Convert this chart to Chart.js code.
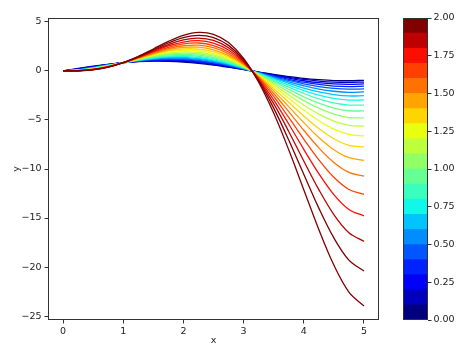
<!DOCTYPE html>
<html>
<head>
<meta charset="utf-8">
<script src="https://cdn.jsdelivr.net/npm/chart.js@4.4.1/dist/chart.umd.min.js"></script>
<style>
  html, body { margin: 0; padding: 0; background: #fff; }
  #wrap { position: relative; width: 474px; height: 355px; }
  canvas { position: absolute; left: 0; top: 0; }
</style>
</head>
<body>
<div id="wrap">
  <canvas id="main" width="474" height="355"></canvas>
  <canvas id="cbar" width="474" height="355"></canvas>
</div>
<script>
// x positions of the samples
const xs = [0, 0.25, 0.5, 0.75, 1, 1.25, 1.5, 1.75, 2, 2.25, 2.5, 2.75, 3, 3.25, 3.5, 3.75, 4, 4.25, 4.5, 4.75, 5];

// parameter of each curve (0 .. 2 in steps of 0.1)
const params = [0, 0.1, 0.2, 0.3, 0.4, 0.5, 0.6, 0.7, 0.8, 0.9, 1.0, 1.1, 1.2, 1.3, 1.4, 1.5, 1.6, 1.7, 1.8, 1.9, 2.0];

// y values, one row per curve
const curves = [
  [0, 0.25, 0.48, 0.68, 0.84, 0.95, 1.00, 0.98, 0.91, 0.78, 0.60, 0.38, 0.14, -0.11, -0.35, -0.57, -0.76, -0.89, -0.98, -1.00, -0.96],
  [0, 0.22, 0.45, 0.66, 0.84, 0.97, 1.04, 1.04, 0.97, 0.84, 0.66, 0.42, 0.16, -0.12, -0.40, -0.65, -0.87, -1.03, -1.14, -1.17, -1.13],
  [0, 0.19, 0.42, 0.64, 0.84, 0.99, 1.08, 1.10, 1.04, 0.92, 0.72, 0.47, 0.18, -0.14, -0.45, -0.74, -1.00, -1.20, -1.32, -1.36, -1.32],
  [0, 0.16, 0.39, 0.63, 0.84, 1.01, 1.13, 1.16, 1.12, 0.99, 0.79, 0.52, 0.20, -0.15, -0.51, -0.85, -1.15, -1.38, -1.54, -1.59, -1.55],
  [0, 0.14, 0.36, 0.61, 0.84, 1.04, 1.17, 1.23, 1.20, 1.08, 0.86, 0.57, 0.22, -0.17, -0.58, -0.97, -1.32, -1.60, -1.78, -1.86, -1.83],
  [0, 0.12, 0.34, 0.59, 0.84, 1.06, 1.22, 1.30, 1.29, 1.17, 0.95, 0.63, 0.24, -0.20, -0.66, -1.11, -1.51, -1.85, -2.07, -2.18, -2.14],
  [0, 0.11, 0.32, 0.57, 0.84, 1.09, 1.27, 1.38, 1.38, 1.27, 1.04, 0.70, 0.27, -0.22, -0.74, -1.26, -1.74, -2.13, -2.41, -2.55, -2.52],
  [0, 0.09, 0.30, 0.56, 0.84, 1.11, 1.32, 1.46, 1.48, 1.37, 1.14, 0.77, 0.30, -0.25, -0.84, -1.44, -2.00, -2.46, -2.80, -2.97, -2.96],
  [0, 0.08, 0.28, 0.54, 0.84, 1.13, 1.38, 1.54, 1.58, 1.49, 1.25, 0.86, 0.34, -0.28, -0.96, -1.65, -2.29, -2.85, -3.26, -3.48, -3.48],
  [0, 0.07, 0.26, 0.53, 0.84, 1.16, 1.44, 1.63, 1.70, 1.61, 1.37, 0.95, 0.38, -0.31, -1.08, -1.88, -2.64, -3.29, -3.78, -4.06, -4.08],
  [0, 0.06, 0.24, 0.51, 0.84, 1.19, 1.50, 1.72, 1.82, 1.75, 1.50, 1.05, 0.42, -0.35, -1.23, -2.14, -3.03, -3.80, -4.40, -4.75, -4.79],
  [0, 0.05, 0.22, 0.50, 0.84, 1.21, 1.56, 1.82, 1.95, 1.90, 1.64, 1.16, 0.47, -0.40, -1.39, -2.45, -3.48, -4.40, -5.11, -5.55, -5.63],
  [0, 0.05, 0.21, 0.48, 0.84, 1.24, 1.62, 1.93, 2.09, 2.06, 1.80, 1.28, 0.53, -0.45, -1.58, -2.79, -3.99, -5.08, -5.94, -6.48, -6.62],
  [0, 0.04, 0.19, 0.47, 0.84, 1.27, 1.69, 2.04, 2.24, 2.23, 1.97, 1.42, 0.59, -0.50, -1.79, -3.19, -4.59, -5.87, -6.91, -7.58, -7.77],
  [0, 0.04, 0.18, 0.46, 0.84, 1.30, 1.76, 2.15, 2.40, 2.42, 2.16, 1.57, 0.66, -0.56, -2.03, -3.64, -5.27, -6.79, -8.03, -8.85, -9.13],
  [0, 0.03, 0.17, 0.44, 0.84, 1.33, 1.83, 2.28, 2.57, 2.63, 2.37, 1.74, 0.73, -0.63, -2.30, -4.15, -6.05, -7.84, -9.33, -10.35, -10.72],
  [0, 0.03, 0.16, 0.43, 0.84, 1.36, 1.91, 2.41, 2.76, 2.85, 2.59, 1.93, 0.82, -0.71, -2.60, -4.74, -6.95, -9.06, -10.85, -12.09, -12.59],
  [0, 0.02, 0.15, 0.42, 0.84, 1.39, 1.99, 2.55, 2.95, 3.09, 2.84, 2.13, 0.91, -0.80, -2.95, -5.41, -7.99, -10.47, -12.61, -14.13, -14.79],
  [0, 0.02, 0.14, 0.41, 0.84, 1.42, 2.07, 2.69, 3.17, 3.35, 3.11, 2.36, 1.02, -0.90, -3.34, -6.17, -9.18, -12.10, -14.65, -16.51, -17.38],
  [0, 0.02, 0.13, 0.39, 0.84, 1.45, 2.16, 2.85, 3.39, 3.63, 3.41, 2.61, 1.14, -1.02, -3.79, -7.04, -10.54, -13.99, -17.03, -19.29, -20.41],
  [0, 0.02, 0.12, 0.38, 0.84, 1.48, 2.24, 3.01, 3.64, 3.94, 3.74, 2.89, 1.27, -1.14, -4.30, -8.04, -12.11, -16.17, -19.80, -22.55, -23.97]
];

const xTicks = [0, 1, 2, 3, 4, 5];
const yTicks = [-25, -20, -15, -10, -5, 0, 5];

// colorbar: band edges and tick labels
const cbEdges = [0, 0.1, 0.2, 0.3, 0.4, 0.5, 0.6, 0.7, 0.8, 0.9, 1.0, 1.1, 1.2, 1.3, 1.4, 1.5, 1.6, 1.7, 1.8, 1.9, 2.0];
const cbTicks = [0, 0.25, 0.5, 0.75, 1.0, 1.25, 1.5, 1.75, 2.0];

const NLEV = cbEdges.length - 1;
const TXT = "#222";
const FONT = { family: "DejaVu Sans", size: 9.5 };

// matplotlib "jet"
function seg(pts, t) {
  for (let i = 1; i < pts.length; i++) {
    if (t <= pts[i][0]) {
      const [x0, y0] = pts[i - 1], [x1, y1] = pts[i];
      return y0 + (y1 - y0) * (t - x0) / (x1 - x0);
    }
  }
  return pts[pts.length - 1][1];
}
function jet(t) {
  const r = seg([[0, 0], [0.35, 0], [0.66, 1], [0.89, 1], [1, 0.5]], t);
  const g = seg([[0, 0], [0.125, 0], [0.375, 1], [0.64, 1], [0.91, 0], [1, 0]], t);
  const b = seg([[0, 0.5], [0.11, 1], [0.34, 1], [0.65, 0], [1, 0]], t);
  return `rgb(${Math.round(r * 255)},${Math.round(g * 255)},${Math.round(b * 255)})`;
}
// discrete colormap with NLEV levels, norm 0..2
const levelColor = (i) => jet(i / (NLEV - 1));
const paramColor = (p) => levelColor(Math.min(NLEV - 1, Math.floor(p / 2 * NLEV + 1e-9)));

const boxPlugin = {
  id: "box",
  afterDatasetsDraw(chart) {
    const { ctx, chartArea: a } = chart;
    ctx.save();
    ctx.strokeStyle = "#333";
    ctx.lineWidth = 1;
    ctx.strokeRect(Math.round(a.left) + 0.5, Math.round(a.top) + 0.5,
      Math.round(a.right - a.left) - 1, Math.round(a.bottom - a.top) - 1);
    ctx.restore();
  }
};

const datasets = [];
curves.forEach((ys, k) => {
  datasets.push({
    label: "a=" + params[k],
    data: xs.map((x, i) => ({ x: x, y: ys[i] })),
    borderColor: paramColor(params[k]),
    borderWidth: 1.3,
    pointRadius: 0,
    tension: 0.35,
    fill: false,
  });
});
datasets.reverse(); // last curve on top

const tickStyle = { color: TXT, font: FONT };
const gridStyle = { drawOnChartArea: false, color: "#333", tickColor: "#333", tickLength: 3.5 };

new Chart(document.getElementById("main"), {
  type: "line",
  data: { datasets: datasets },
  options: {
    responsive: false,
    animation: false,
    events: [],
    layout: { padding: { top: 18, right: 95, left: 0, bottom: 0 } },
    plugins: { legend: { display: false }, tooltip: { enabled: false } },
    scales: {
      x: {
        type: "linear",
        min: -0.25,
        max: 5.25,
        afterBuildTicks: (s) => { s.ticks = xTicks.map((v) => ({ value: v })); },
        afterFit: (s) => { s.height = 35; },
        ticks: { ...tickStyle, padding: 2, maxRotation: 0 },
        grid: gridStyle,
        border: { display: false },
        title: { display: true, text: "x", color: TXT, font: FONT, padding: { top: 0, bottom: 9 } },
      },
      y: {
        type: "linear",
        min: -25.4,
        max: 5.4,
        afterBuildTicks: (s) => { s.ticks = yTicks.map((v) => ({ value: v })); },
        afterFit: (s) => { s.width = 48; },
        ticks: { ...tickStyle, padding: 3, callback: (v) => (v < 0 ? "\u2212" + Math.abs(v) : String(v)) },
        grid: gridStyle,
        border: { display: false },
        title: { display: true, text: "y", color: TXT, font: FONT, padding: { top: 11, bottom: 0 } },
      },
    },
  },
  plugins: [boxPlugin],
});

// colorbar
const bands = [];
for (let i = 0; i < NLEV; i++) {
  bands.push({
    data: [[cbEdges[i], cbEdges[i + 1]]],
    backgroundColor: levelColor(i),
    borderWidth: 0,
    barPercentage: 1,
    categoryPercentage: 1,
  });
}

new Chart(document.getElementById("cbar"), {
  type: "bar",
  data: { labels: [""], datasets: bands },
  options: {
    responsive: false,
    animation: false,
    events: [],
    layout: { padding: { top: 18, right: 0, left: 403, bottom: 35 } },
    plugins: { legend: { display: false }, tooltip: { enabled: false } },
    scales: {
      x: { display: false, stacked: true },
      y: {
        position: "right",
        min: 0,
        max: 2,
        afterBuildTicks: (s) => { s.ticks = cbTicks.map((v) => ({ value: v })); },
        afterFit: (s) => { s.width = 46; },
        ticks: { ...tickStyle, padding: 2, callback: (v) => Number(v).toFixed(2) },
        grid: gridStyle,
        border: { display: false },
      },
    },
  },
  plugins: [boxPlugin],
});
</script>
</body>
</html>
